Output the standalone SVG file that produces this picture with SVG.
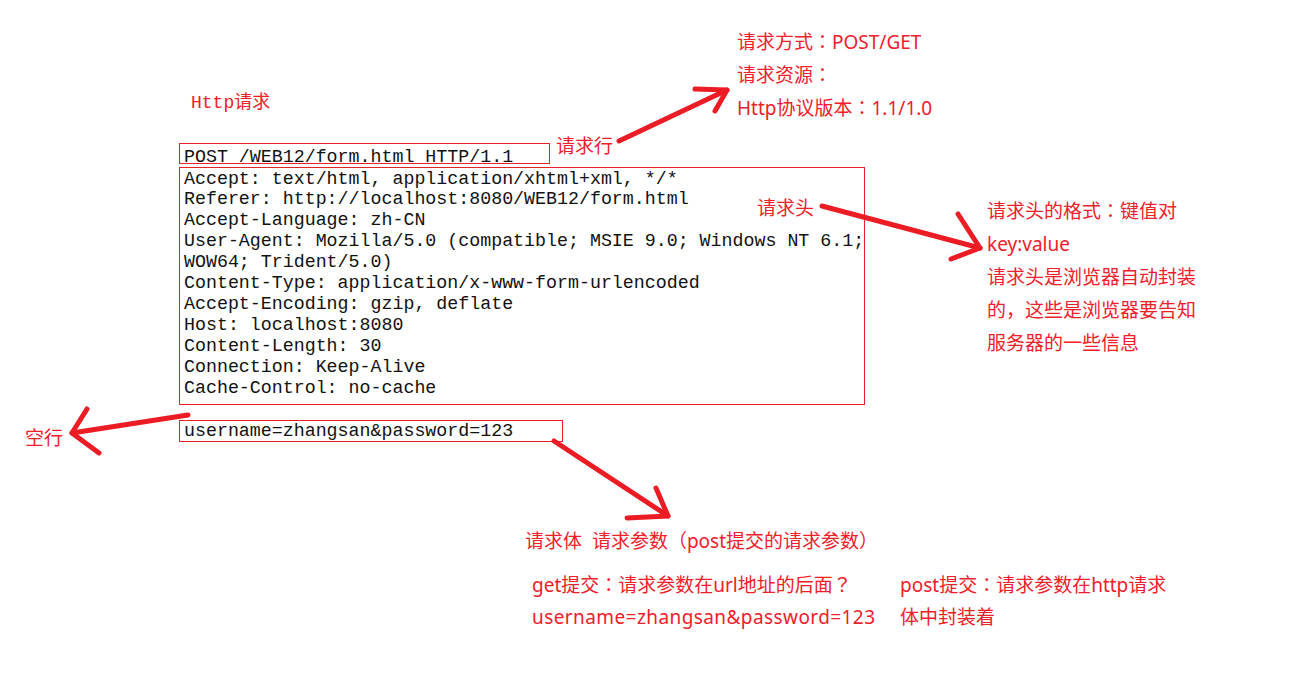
<svg xmlns="http://www.w3.org/2000/svg" width="1298" height="697" viewBox="0 0 1298 697">
<style>
.box{fill:none;stroke:#e8202a;stroke-width:1}
.mono{font-family:"Liberation Mono","Courier New",monospace;font-size:18.3px;fill:#111}
.lbl{font-family:"Noto Sans","Noto Sans CJK SC",sans-serif;font-size:19px;fill:#f0202a}
.p{font-family:"Noto Sans CJK TC",sans-serif}
.arr{fill:none;stroke:#ec1c24;stroke-width:5;stroke-linecap:round;stroke-linejoin:round}
</style>
<rect width="1298" height="697" fill="#ffffff"/>
<g id="title">
<text x="191" y="108" style="font-family:'Liberation Mono','Noto Sans CJK SC',monospace;font-size:18px;fill:#f0202a">Http<tspan style="font-family:'Noto Sans CJK SC',sans-serif">请求</tspan></text>
</g>
<g id="request-line">
<rect class="box" x="179.5" y="143.5" width="370" height="20"/>
<text class="mono" x="184" y="161.5">POST /WEB12/form.html HTTP/1.1</text>
</g>
<g id="request-headers">
<rect class="box" x="179.5" y="167.5" width="685" height="237"/>
<text class="mono">
<tspan x="184" y="183.5">Accept: text/html, application/xhtml+xml, */*</tspan>
<tspan x="184" y="204.4">Referer: http://localhost:8080/WEB12/form.html</tspan>
<tspan x="184" y="225.3">Accept-Language: zh-CN</tspan>
<tspan x="184" y="246.2">User-Agent: Mozilla/5.0 (compatible; MSIE 9.0; Windows NT 6.1;</tspan>
<tspan x="184" y="267.1">WOW64; Trident/5.0)</tspan>
<tspan x="184" y="288">Content-Type: application/x-www-form-urlencoded</tspan>
<tspan x="184" y="308.9">Accept-Encoding: gzip, deflate</tspan>
<tspan x="184" y="329.8">Host: localhost:8080</tspan>
<tspan x="184" y="350.7">Content-Length: 30</tspan>
<tspan x="184" y="371.6">Connection: Keep-Alive</tspan>
<tspan x="184" y="392.5">Cache-Control: no-cache</tspan>
</text>
</g>
<g id="request-body">
<rect class="box" x="179.5" y="420.5" width="383" height="21"/>
<text class="mono" x="184" y="436">username=zhangsan&amp;password=123</text>
</g>
<g id="label-request-line">
<text class="lbl" x="556" y="153">请求行</text>
</g>
<g id="note-request-line">
<text class="lbl" x="737" y="49">请求方式<tspan class="p">：</tspan>POST/GET</text>
<text class="lbl" x="737" y="82">请求资源<tspan class="p">：</tspan></text>
<text class="lbl" x="737" y="115">Http协议版本<tspan class="p">：</tspan>1.1/1.0</text>
</g>
<g id="label-request-headers">
<text class="lbl" x="757" y="215">请求头</text>
</g>
<g id="note-request-headers">
<text class="lbl" x="987" y="218">请求头的格式<tspan class="p">：</tspan>键值对</text>
<text class="lbl" x="987" y="251">key:value</text>
<text class="lbl" x="987" y="284">请求头是浏览器自动封装</text>
<text class="lbl" x="987" y="317">的，这些是浏览器要告知</text>
<text class="lbl" x="987" y="350">服务器的一些信息</text>
</g>
<g id="label-empty-line">
<text class="lbl" x="25" y="445">空行</text>
</g>
<g id="label-request-body">
<text class="lbl" x="525" y="548" style="white-space:pre">请求体  请求参数<tspan class="p">（</tspan>post提交的请求参数<tspan class="p">）</tspan></text>
</g>
<g id="note-get">
<text class="lbl" x="532" y="592">get提交<tspan class="p">：</tspan>请求参数在url地址的后面<tspan class="p">？</tspan></text>
<text class="lbl" x="532" y="624" textLength="343" lengthAdjust="spacing">username=zhangsan&amp;password=123</text>
</g>
<g id="note-post">
<text class="lbl" x="900" y="592">post提交<tspan class="p">：</tspan>请求参数在http请求</text>
<text class="lbl" x="900" y="624">体中封装着</text>
</g>
<g id="connectors">
<path class="arr" d="M619,141 L727,90"/>
<path class="arr" d="M695,89 L727,90 L715,111"/>
<path class="arr" d="M822,206 L980,248"/>
<path class="arr" d="M958,214 L980,248 L951,259"/>
<path class="arr" d="M188,415 L72,433"/>
<path class="arr" d="M87,409 L72,433 L99,453"/>
<path class="arr" d="M554,441 L668,516"/>
<path class="arr" d="M656,488 L668,516 L627,518"/>
</g>
</svg>
